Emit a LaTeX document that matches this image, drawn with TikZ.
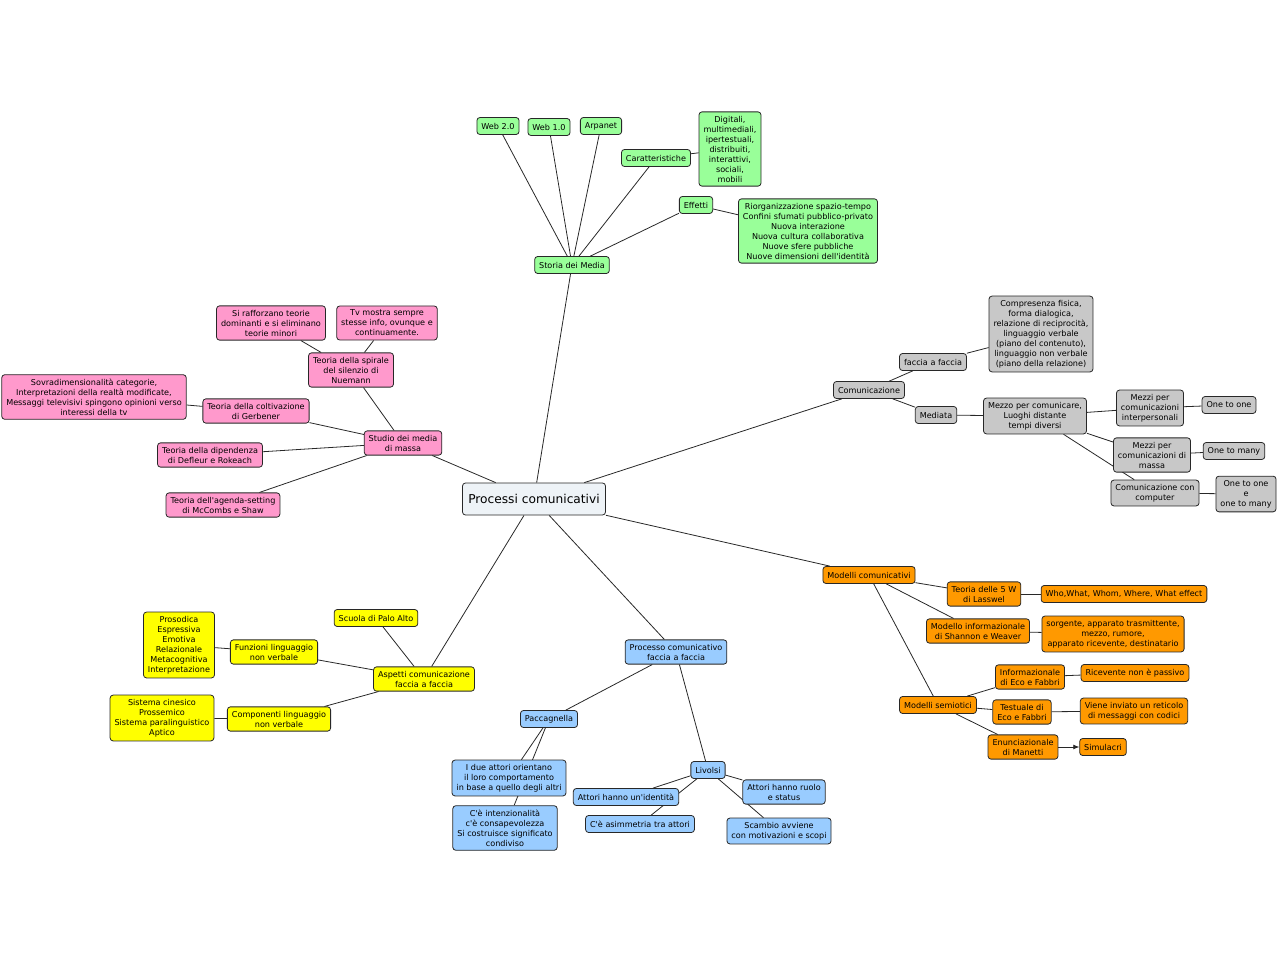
\documentclass[tikz,border=0pt]{standalone}
\usepackage{fontspec}
\setmainfont{DejaVu Sans}
\usetikzlibrary{backgrounds,arrows.meta}
\definecolor{storiafill}{RGB}{153,255,153}
\definecolor{massafill}{RGB}{255,153,204}
\definecolor{comunfill}{RGB}{200,200,200}
\definecolor{modellifill}{RGB}{255,153,0}
\definecolor{aspettifill}{RGB}{255,255,0}
\definecolor{processofill}{RGB}{153,204,255}
\definecolor{rootfill}{RGB}{238,243,247}
\definecolor{edgecol}{RGB}{40,40,40}

\begin{document}
\begin{tikzpicture}[x=1pt,y=-1pt,
    box/.style={draw=edgecol,rounded corners=3pt,align=center,line width=0.8pt,
      inner xsep=4.5pt,inner ysep=4pt,minimum height=17pt,
      font=\fontsize{8.1}{10}\selectfont},
    storia/.style={box,fill=storiafill},
    massa/.style={box,fill=massafill},
    comun/.style={box,fill=comunfill},
    modelli/.style={box,fill=modellifill},
    aspetti/.style={box,fill=aspettifill},
    processo/.style={box,fill=processofill},
    link/.style={draw=edgecol,line width=0.8pt}]
  \useasboundingbox (0,0) rectangle (1280,963);
  % Root
  \node[box,fill=rootfill,minimum width=143pt,minimum height=32pt,
    font=\fontsize{12.2}{14}\selectfont] (root) at (534,499) {Processi comunicativi};
  % Storia dei Media
  \node[storia] (storia) at (572,265) {Storia dei Media};
  \node[storia] (web2) at (498,126) {Web 2.0};
  \node[storia] (web1) at (549,127) {Web 1.0};
  \node[storia] (arpanet) at (601,126) {Arpanet};
  \node[storia] (caratt) at (656,158) {Caratteristiche};
  \node[storia] (digitali) at (730,149) {Digitali,\\multimediali,\\ipertestuali,\\distribuiti,\\interattivi,\\sociali,\\mobili};
  \node[storia] (effetti) at (696,205) {Effetti};
  \node[storia] (riorg) at (808,231) {Riorganizzazione spazio-tempo\\Confini sfumati pubblico-privato\\Nuova interazione\\Nuova cultura collaborativa\\Nuove sfere pubbliche\\Nuove dimensioni dell\textquotesingle identità};
  % Studio dei media di massa
  \node[massa] (studio) at (403,443) {Studio dei media\\di massa};
  \node[massa] (spirale) at (351,370) {Teoria della spirale\\del silenzio di\\Nuemann};
  \node[massa] (rafforz) at (271,323) {Si rafforzano teorie\\dominanti e si eliminano\\teorie minori};
  \node[massa] (tvmostra) at (387,323) {Tv mostra sempre\\stesse info, ovunque e\\continuamente.};
  \node[massa] (coltiv) at (256,411) {Teoria della coltivazione\\di Gerbener};
  \node[massa] (sovradim) at (94,397) {Sovradimensionalità categorie,\\Interpretazioni della realtà modificate,\\Messaggi televisivi spingono opinioni verso\\interessi della tv};
  \node[massa] (dipend) at (210,455) {Teoria della dipendenza\\di Defleur e Rokeach};
  \node[massa] (agenda) at (223,505) {Teoria dell\textquotesingle agenda-setting\\di McCombs e Shaw};
  % Comunicazione
  \node[comun] (comunic) at (869,390) {Comunicazione};
  \node[comun] (faccia) at (933,362) {faccia a faccia};
  \node[comun] (compres) at (1041,334) {Compresenza fisica,\\forma dialogica,\\relazione di reciprocità,\\linguaggio verbale\\(piano del contenuto),\\linguaggio non verbale\\(piano della relazione)};
  \node[comun] (mediata) at (936,415) {Mediata};
  \node[comun] (mezzo) at (1035,416) {Mezzo per comunicare,\\Luoghi distante\\tempi diversi};
  \node[comun] (interp) at (1150,408) {Mezzi per\\comunicazioni\\interpersonali};
  \node[comun] (onetoone) at (1229,405) {One to one};
  \node[comun] (dimassa) at (1152,455) {Mezzi per\\comunicazioni di\\massa};
  \node[comun] (onetomany) at (1234,451) {One to many};
  \node[comun] (computer) at (1155,493) {Comunicazione con\\computer};
  \node[comun] (oneboth) at (1246,494) {One to one\\e\\one to many};
  % Modelli comunicativi
  \node[modelli] (modcom) at (869,575) {Modelli comunicativi};
  \node[modelli] (cinquew) at (984,594) {Teoria delle 5 W\\di Lasswel};
  \node[modelli] (who) at (1124,594) {Who,What, Whom, Where, What effect};
  \node[modelli] (modinf) at (978,631) {Modello informazionale\\di Shannon e Weaver};
  \node[modelli] (sorgente) at (1113,634) {sorgente, apparato trasmittente,\\mezzo, rumore,\\apparato ricevente, destinatario};
  \node[modelli] (semiot) at (938,705) {Modelli semiotici};
  \node[modelli] (infeco) at (1030,677) {Informazionale\\di Eco e Fabbri};
  \node[modelli] (ricev) at (1135,673) {Ricevente non è passivo};
  \node[modelli] (testeco) at (1022,712) {Testuale di\\Eco e Fabbri};
  \node[modelli] (viene) at (1134,711) {Viene inviato un reticolo\\di messaggi con codici};
  \node[modelli] (enunc) at (1023,747) {Enunciazionale\\di Manetti};
  \node[modelli] (simul) at (1103,747) {Simulacri};
  % Aspetti comunicazione faccia a faccia
  \node[aspetti] (aspetti) at (424,679) {Aspetti comunicazione\\faccia a faccia};
  \node[aspetti] (paloalto) at (376,618) {Scuola di Palo Alto};
  \node[aspetti] (funzioni) at (274,652) {Funzioni linguaggio\\non verbale};
  \node[aspetti] (prosod) at (179,645) {Prosodica\\Espressiva\\Emotiva\\Relazionale\\Metacognitiva\\Interpretazione};
  \node[aspetti] (compon) at (279,719) {Componenti linguaggio\\non verbale};
  \node[aspetti] (cinesico) at (162,718) {Sistema cinesico\\Prossemico\\Sistema paralinguistico\\Aptico};
  % Processo comunicativo faccia a faccia
  \node[processo] (processo) at (676,652) {Processo comunicativo\\faccia a faccia};
  \node[processo] (paccag) at (549,719) {Paccagnella};
  \node[processo] (dueattori) at (509,778) {I due attori orientano\\il loro comportamento\\in base a quello degli altri};
  \node[processo] (intenz) at (505,828) {C\textquotesingle è intenzionalità\\c\textquotesingle è consapevolezza\\Si costruisce significato\\condiviso};
  \node[processo] (livolsi) at (708,770) {Livolsi};
  \node[processo] (identita) at (626,797) {Attori hanno un\textquotesingle identità};
  \node[processo] (ruolo) at (784,792) {Attori hanno ruolo\\e status};
  \node[processo] (asimm) at (640,824) {C\textquotesingle è asimmetria tra attori};
  \node[processo] (scambio) at (779,831) {Scambio avviene\\con motivazioni e scopi};
  % Connectors
  \begin{scope}[on background layer]
    \foreach \a/\b in {root/storia,storia/web2,storia/web1,storia/arpanet,storia/caratt,
        caratt/digitali,storia/effetti,effetti/riorg,
        root/studio,studio/spirale,spirale/rafforz,spirale/tvmostra,studio/coltiv,
        coltiv/sovradim,studio/dipend,studio/agenda,
        root/comunic,comunic/faccia,faccia/compres,comunic/mediata,mediata/mezzo,
        mezzo/interp,interp/onetoone,mezzo/dimassa,dimassa/onetomany,mezzo/computer,
        computer/oneboth,
        root/modcom,modcom/cinquew,cinquew/who,modcom/modinf,modinf/sorgente,
        modcom/semiot,semiot/infeco,infeco/ricev,semiot/testeco,testeco/viene,semiot/enunc,
        root/aspetti,aspetti/paloalto,aspetti/funzioni,funzioni/prosod,aspetti/compon,
        compon/cinesico,
        root/processo,processo/paccag,processo/livolsi,paccag/dueattori,paccag/intenz,
        livolsi/identita,livolsi/ruolo,livolsi/asimm,livolsi/scambio}
      \draw[link] (\a) -- (\b);
  \end{scope}
  \draw[link,-{Latex[length=6pt,width=5pt]}] (enunc) -- (simul);
\end{tikzpicture}
\end{document}
